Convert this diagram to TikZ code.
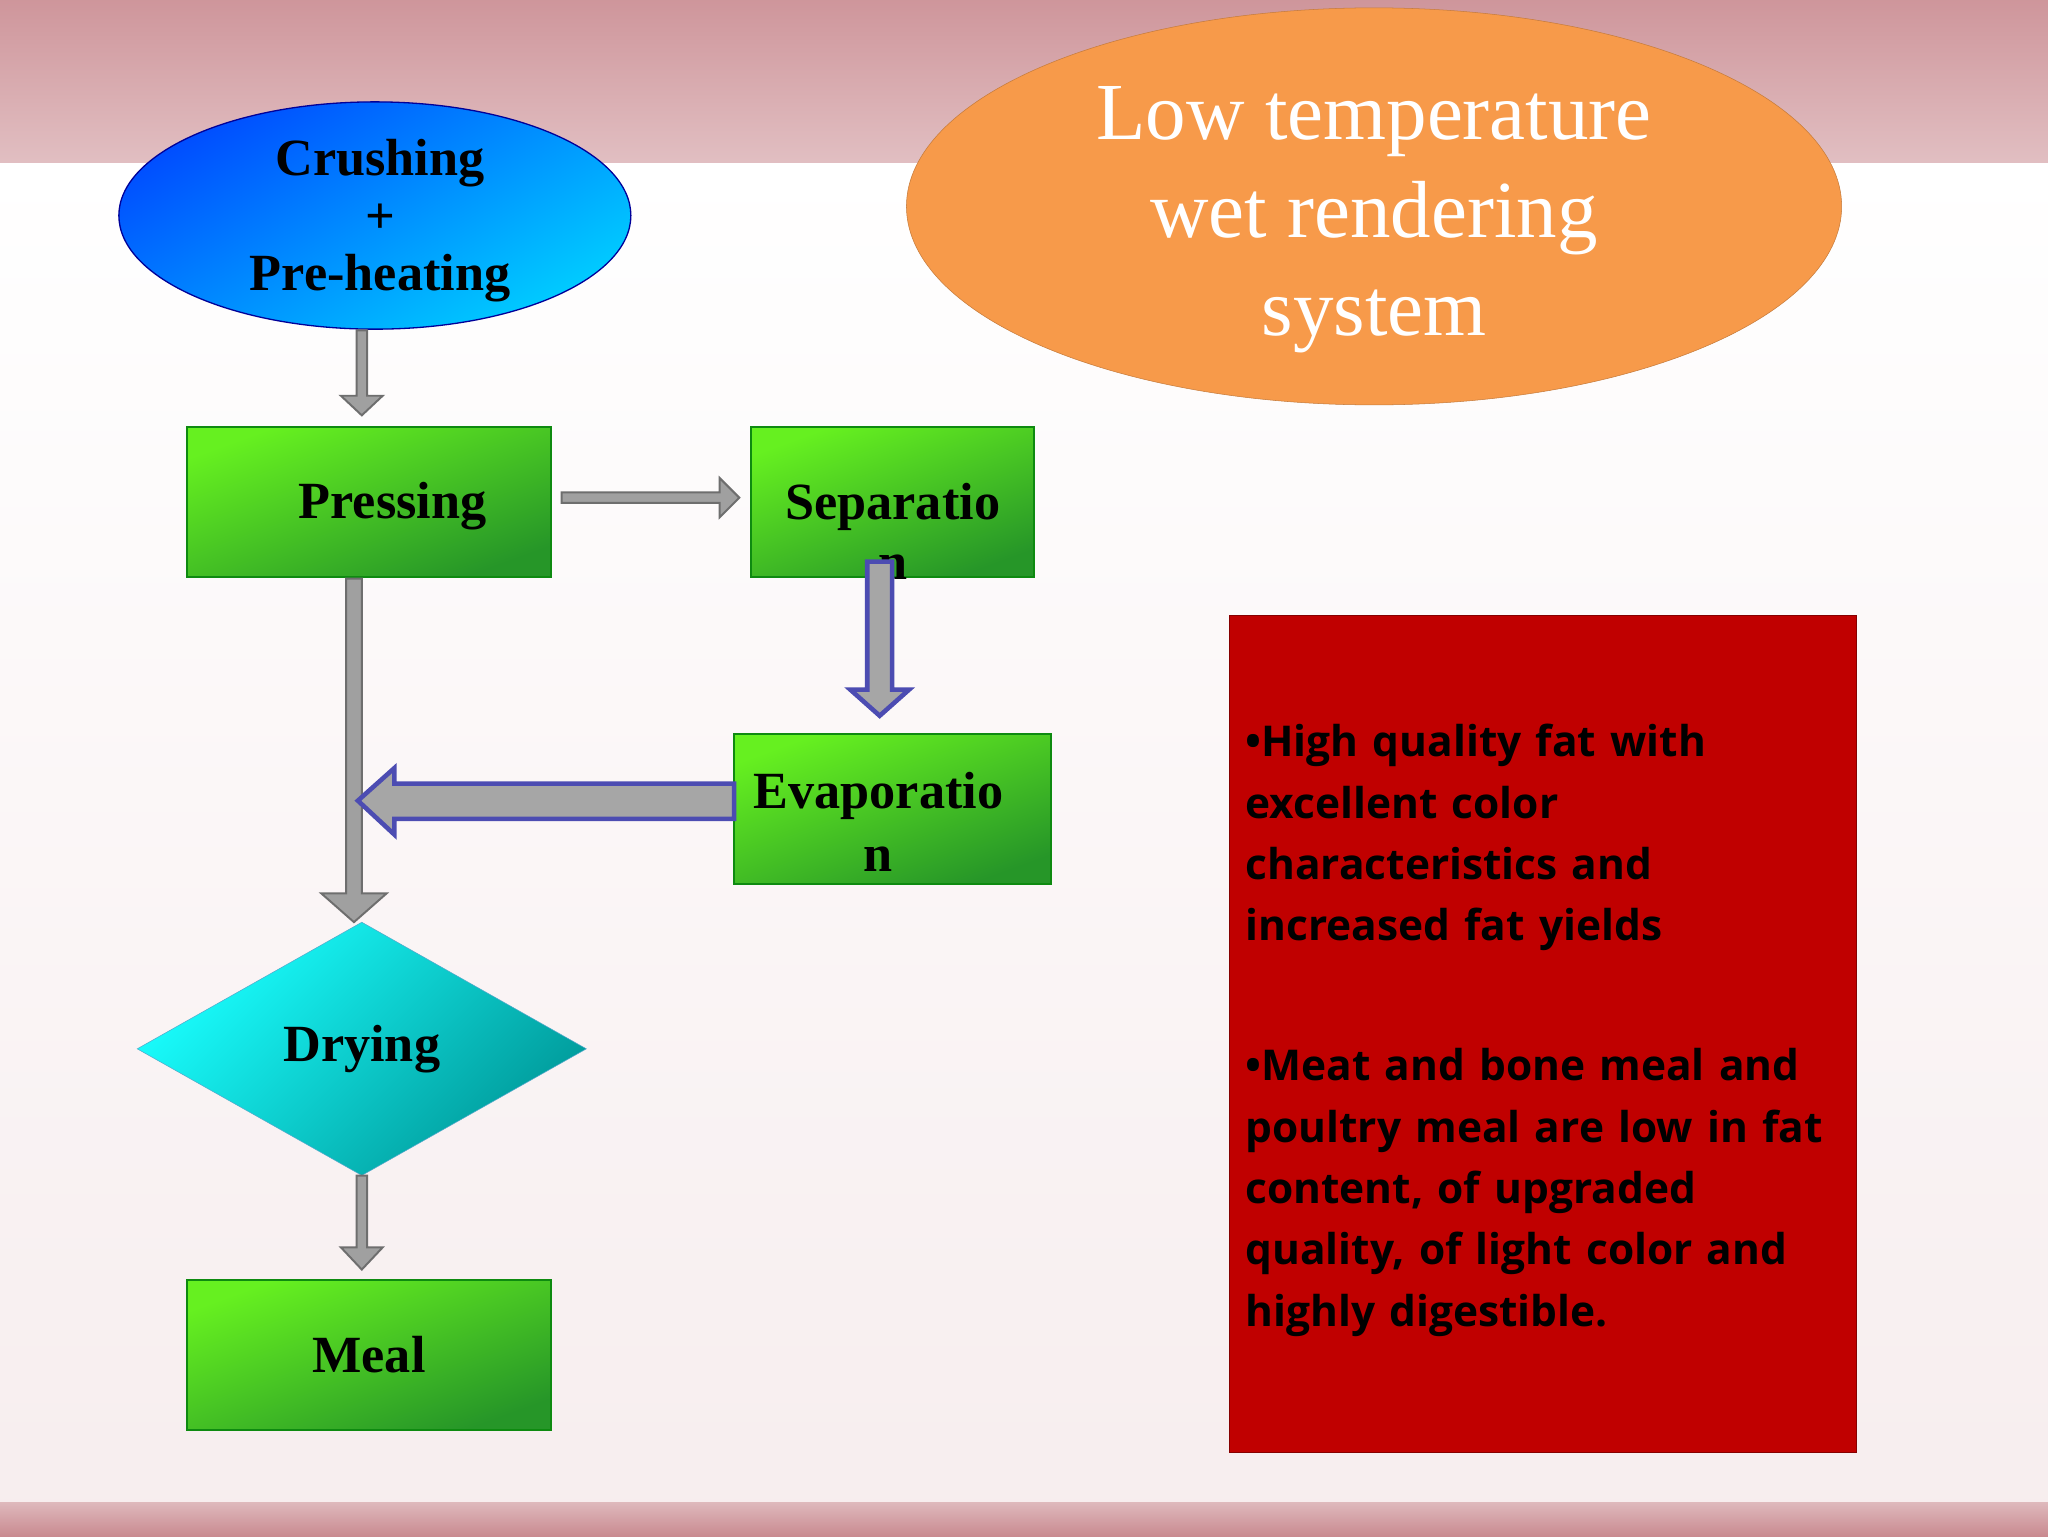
\documentclass[tikz,border=0pt]{standalone}
\usepackage{fontspec}
\setmainfont{Liberation Serif}
\newfontfamily\osans{Open Sans}
\usetikzlibrary{shapes.geometric}
\definecolor{bandc}{HTML}{C98A90}
\definecolor{grnl}{HTML}{66F020}
\definecolor{grnd}{HTML}{0E8A10}
\definecolor{orng}{HTML}{F79A4A}
\definecolor{redb}{HTML}{C00000}
\definecolor{arrg}{HTML}{A0A0A0}
\definecolor{arro}{HTML}{6E6E6E}
\tikzset{
 boxg/.style={draw=grnd, line width=1.5, top color=grnl, bottom color=grnd!90, shading angle=20},
 lbl/.style={font=\bfseries\fontsize{40}{48}\selectfont, align=center, text=black},
 garr/.style={fill=arrg, draw=arro, line width=1.5},
 barr/.style={fill=gray!70, draw=blue!40!gray, line width=3.5},
}
\begin{document}
\begin{tikzpicture}[x=1pt,y=-1pt]
\useasboundingbox (0,0) rectangle (1568,1176);
\fill[white] (0,0) rectangle (1568,1176);
\shade[top color=bandc!90, bottom color=bandc!55] (0,0) rectangle (1568,125);
\shade[top color=white, bottom color=bandc!15] (0,125) rectangle (1568,1150);
\shade[top color=bandc!60, bottom color=bandc] (0,1150) rectangle (1568,1176);
% ellipses
\node[ellipse, draw=blue!60!black, line width=1, minimum width=392, minimum height=174,
  top color=blue!70!cyan, bottom color=cyan!80!blue, shading angle=30] (crush) at (287,165) {};
\node[lbl] at ([xshift=4pt,yshift=-4pt]crush.center) {Crushing\\[-4pt]+\\[-4pt]Pre-heating};
\node[ellipse, draw=orng!80!black, fill=orng, minimum width=716, minimum height=304] (title) at (1052,158) {};
\node[font=\fontsize{62}{75}\selectfont, text=white, align=center] at ([yshift=-10pt]title.center)
  {Low temperature\\wet rendering\\system};
% boxes
\node[boxg, minimum width=279, minimum height=115] (press) at (282.5,384.5) {};
\node[lbl] at ([xshift=18pt,yshift=-3pt]press.center) {Pressing};
\node[boxg, minimum width=217, minimum height=115] (sep) at (683.5,384.5) {};
\node[lbl] at ([yshift=-22pt]sep.center) {Separatio\\[-2pt]n};
\node[boxg, minimum width=243, minimum height=115] (evap) at (683.5,619.5) {};
\node[lbl] at ([xshift=-11pt,yshift=-10pt]evap.center) {Evaporatio\\n};
\node[diamond, draw=cyan!60!gray, minimum width=344, minimum height=194, aspect=1.77,
  top color=cyan!90, bottom color=teal!80!cyan, shading angle=45] (dry) at (277,803) {};
\node[lbl] at (dry.center) {Drying};
\node[boxg, minimum width=279, minimum height=115] (meal) at (282.5,1037.5) {};
\node[lbl] at (meal.center) {Meal};
% red box
\node[fill=redb, draw=redb!70!black, minimum width=480, minimum height=641, anchor=north west] (red) at (941,471) {};
\node[anchor=north west, text=black, font=\osans\bfseries\fontsize{32.5}{47}\selectfont, align=left, text width=460]
 at (950,551) {•High quality fat with\\excellent color\\characteristics and\\increased fat yields\\[60pt]•Meat and bone meal and\\poultry meal are low in fat\\content, of upgraded\\quality, of light color and\\highly digestible.};
% arrows
\draw[garr] (273,253) -- (281,253) -- (281,303) -- (293,303) -- (277,318) -- (261,303) -- (273,303) -- cycle;
\draw[garr] (430,377) -- (551,377) -- (551,366) -- (566,381) -- (551,396) -- (551,385) -- (430,385) -- cycle;
\draw[garr] (265,443) -- (277,443) -- (277,684) -- (296,684) -- (271,706) -- (246,684) -- (265,684) -- cycle;
\draw[garr] (273,900) -- (281,900) -- (281,955) -- (293,955) -- (277,972) -- (261,955) -- (273,955) -- cycle;
\draw[barr] (664,430) -- (683,430) -- (683,528) -- (696,528) -- (673.5,548) -- (651,528) -- (664,528) -- cycle;
\draw[barr] (562,600) -- (302,600) -- (302,588) -- (274,613) -- (302,639) -- (302,627) -- (562,627) -- cycle;
\end{tikzpicture}
\end{document}
